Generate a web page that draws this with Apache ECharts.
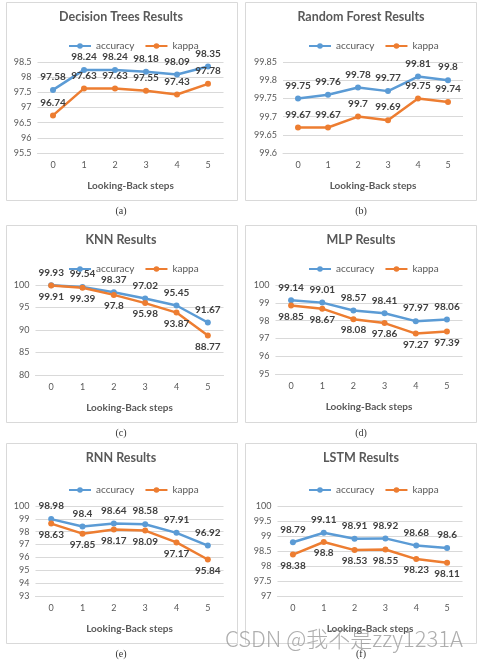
<!DOCTYPE html>
<html>
<head>
<meta charset="utf-8">
<script src="https://cdn.jsdelivr.net/npm/echarts@6/dist/echarts.min.js"></script>
<style>
  html, body { margin: 0; padding: 0; background: #fff; }
  #main { width: 479px; height: 660px; }
</style>
</head>
<body>
<div id="main"></div>
<script>
// looking-back steps
const steps = ['0', '1', '2', '3', '4', '5'];
const titles = ['Decision Trees Results', 'Random Forest Results', 'KNN Results', 'MLP Results', 'RNN Results', 'LSTM Results'];
const captions = ['(a)', '(b)', '(c)', '(d)', '(e)', '(f)'];

const dtAcc = [97.58, 98.24, 98.24, 98.18, 98.09, 98.35];
const dtKappa = [96.74, 97.63, 97.63, 97.55, 97.43, 97.78];
const rfAcc = [99.75, 99.76, 99.78, 99.77, 99.81, 99.8];
const rfKappa = [99.67, 99.67, 99.7, 99.69, 99.75, 99.74];
const knnAcc = [99.93, 99.54, 98.37, 97.02, 95.45, 91.67];
const knnKappa = [99.91, 99.39, 97.8, 95.98, 93.87, 88.77];
const mlpAcc = [99.14, 99.01, 98.57, 98.41, 97.97, 98.06];
const mlpKappa = [98.85, 98.67, 98.08, 97.86, 97.27, 97.39];
const rnnAcc = [98.98, 98.4, 98.64, 98.58, 97.91, 96.92];
const rnnKappa = [98.63, 97.85, 98.17, 98.09, 97.17, 95.84];
const lstmAcc = [98.79, 99.11, 98.91, 98.92, 98.68, 98.6];
const lstmKappa = [98.38, 98.8, 98.53, 98.55, 98.23, 98.11];

// y axis ticks
const yMin = [95.5, 99.6, 80, 95, 93, 97];
const yMax = [98.5, 99.85, 100, 100, 100, 100];
const yStep = [0.5, 0.05, 5, 1, 1, 0.5];

const accAll = [dtAcc, rfAcc, knnAcc, mlpAcc, rnnAcc, lstmAcc];
const kappaAll = [dtKappa, rfKappa, knnKappa, mlpKappa, rnnKappa, lstmKappa];

// panel layout: box x/y/w/h, grid left/right, grid top/bottom
const layout = [
  {bx: 6, by: 2, bw: 231, bh: 198, gl: 37.5, gr: 223.5, gt: 62, gb: 153, cx: 121},
  {bx: 245, by: 2, bw: 231, bh: 198, gl: 283, gr: 463, gt: 62, gb: 153, cx: 361},
  {bx: 6, by: 225, bw: 231, bh: 197, gl: 35.5, gr: 223.5, gt: 285, gb: 375, cx: 121},
  {bx: 245, by: 225, bw: 231, bh: 197, gl: 275.5, gr: 462.5, gt: 285, gb: 374, cx: 361},
  {bx: 6, by: 443, bw: 231, bh: 200, gl: 35.5, gr: 223.5, gt: 506, gb: 596, cx: 121},
  {bx: 245, by: 443, bw: 231, bh: 200, gl: 277.5, gr: 462.5, gt: 506, gb: 596, cx: 361}
];

const FONT = 'Lato';
const ACC_COLOR = '#5B9BD5';
const KAPPA_COLOR = '#ED7D31';

let chart = echarts.init(document.getElementById('main'));

let grids = [], xAxes = [], yAxes = [], series = [], legends = [], graphics = [];

layout.forEach((p, i) => {
  grids.push({
    left: p.gl,
    top: p.gt,
    width: p.gr - p.gl,
    height: p.gb - p.gt,
    containLabel: false
  });
  xAxes.push({
    type: 'category',
    gridIndex: i,
    data: steps,
    boundaryGap: true,
    name: 'Looking-Back steps',
    nameLocation: 'middle',
    nameGap: 28,
    nameTextStyle: {color: '#595959', fontFamily: FONT, fontSize: 10, fontWeight: 'bold'},
    axisLine: {lineStyle: {color: '#d9d9d9'}},
    axisTick: {show: false},
    axisLabel: {color: '#595959', fontFamily: FONT, fontSize: 9, margin: 8}
  });
  yAxes.push({
    type: 'value',
    gridIndex: i,
    min: yMin[i],
    max: yMax[i],
    interval: yStep[i],
    axisLine: {show: false},
    axisTick: {show: false},
    splitLine: {lineStyle: {color: '#d9d9d9'}},
    axisLabel: {
      color: '#595959', fontFamily: FONT, fontSize: 9, margin: 6,
      formatter: v => String(+v.toFixed(2))
    }
  });
  let kappaBelow = i >= 2;
  series.push({
    name: 'accuracy',
    type: 'line',
    xAxisIndex: i,
    yAxisIndex: i,
    data: accAll[i],
    symbol: 'circle',
    symbolSize: 6,
    lineStyle: {color: ACC_COLOR, width: 2.5},
    itemStyle: {color: ACC_COLOR},
    label: {
      show: true, position: 'top', distance: 5,
      color: '#404040', fontFamily: FONT, fontSize: 10, fontWeight: 'bold'
    }
  });
  series.push({
    name: 'kappa',
    type: 'line',
    xAxisIndex: i,
    yAxisIndex: i,
    data: kappaAll[i],
    symbol: 'circle',
    symbolSize: 6,
    lineStyle: {color: KAPPA_COLOR, width: 2.5},
    itemStyle: {color: KAPPA_COLOR},
    label: {
      show: true, position: kappaBelow ? 'bottom' : 'top', distance: kappaBelow ? 3 : 5,
      color: '#404040', fontFamily: FONT, fontSize: 10, fontWeight: 'bold'
    }
  });
  legends.push({
    left: p.cx - 58,
    top: p.gt - 26,
    itemWidth: 22,
    itemHeight: 7,
    itemGap: 10,
    data: ['accuracy', 'kappa'],
    textStyle: {color: '#595959', fontFamily: FONT, fontSize: 10}
  });
  // panel frame
  graphics.push({
    type: 'rect',
    shape: {x: p.bx + 0.5, y: p.by + 0.5, width: p.bw, height: p.bh},
    style: {fill: 'none', stroke: '#d9d9d9', lineWidth: 1},
    z: -1
  });
  graphics.push({
    type: 'text',
    x: p.cx,
    y: p.by + 15,
    style: {
      text: titles[i], fill: '#595959', font: 'bold 12.5px ' + FONT,
      textAlign: 'center', textVerticalAlign: 'middle'
    }
  });
  graphics.push({
    type: 'text',
    x: p.cx,
    y: p.by + p.bh + 11,
    style: {
      text: captions[i], fill: '#333', font: '10px "Liberation Serif"',
      textAlign: 'center', textVerticalAlign: 'middle'
    }
  });
});

graphics.push({
  type: 'text',
  x: 463,
  y: 639,
  z: 100,
  style: {
    text: 'CSDN @我不是zzy1231A', fill: 'rgba(140,140,140,0.7)',
    font: '300 22px "Noto Sans CJK SC"', textAlign: 'right', textVerticalAlign: 'middle'
  }
});

let option = {
  backgroundColor: '#fff',
  animation: false,
  grid: grids,
  xAxis: xAxes,
  yAxis: yAxes,
  legend: legends,
  series: series,
  graphic: graphics
};
chart.setOption(option);
</script>
</body>
</html>
